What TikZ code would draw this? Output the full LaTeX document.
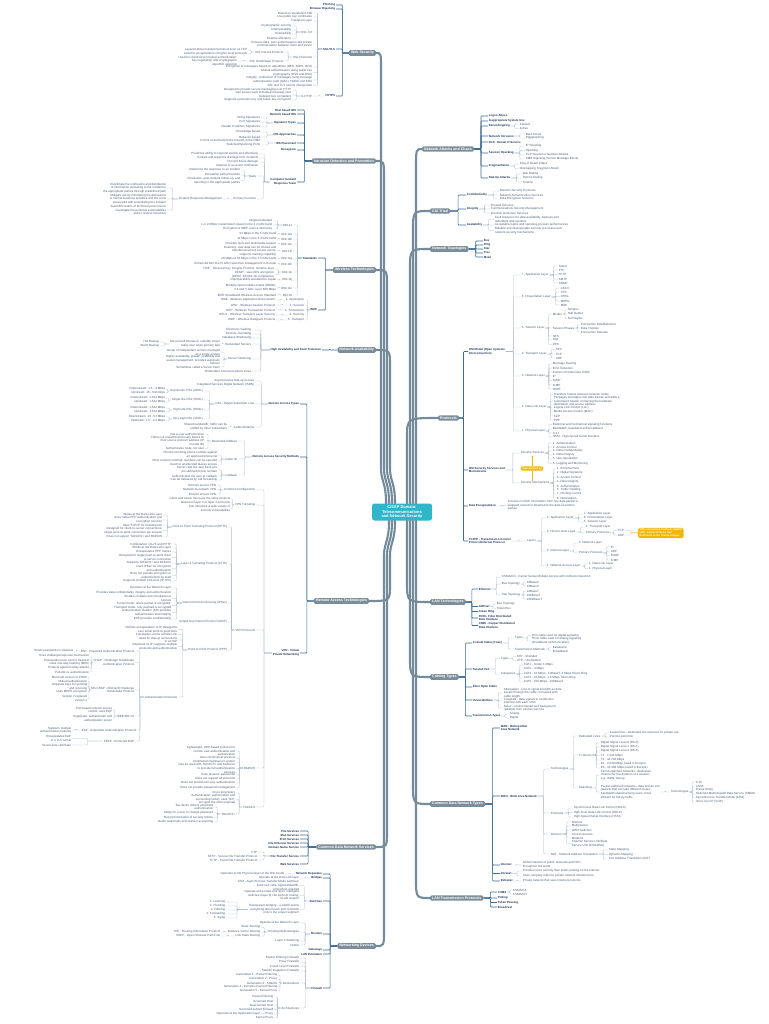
\documentclass[tikz,border=0pt]{standalone}
\usepackage{fontspec}
\setmainfont{Liberation Sans}
\usetikzlibrary{calc,arrows.meta}
\definecolor{leafc}{HTML}{4A5F78}
\definecolor{lvc}{HTML}{1D3557}
\definecolor{subc}{HTML}{A9BACB}
\definecolor{submc}{HTML}{3E6A93}
\definecolor{mainc}{HTML}{738B9A}
\definecolor{labc}{HTML}{7D8E9B}
\definecolor{rootc}{HTML}{2FB6C9}
\definecolor{yelc}{HTML}{F2B705}
\tikzset{
 lfL/.style={font=\fontsize{3}{3.6}\selectfont, text=leafc, align=right, inner sep=0.4pt, outer sep=0.5pt},
 lfR/.style={lfL, align=left},
 l1L/.style={font=\fontsize{2.9}{3.6}\selectfont\bfseries, text=lvc, align=right, inner sep=0.4pt, outer sep=0.5pt},
 l1R/.style={l1L, align=left},
 mainlab/.style={fill=labc, rounded corners=1.2pt, text=white, font=\fontsize{3.6}{4.2}\selectfont\bfseries, inner xsep=2pt, inner ysep=1.2pt},
 rootn/.style={fill=rootc, rounded corners=2.5pt, text=white, font=\fontsize{4}{4.6}\selectfont\bfseries, align=center, minimum width=60pt, minimum height=17pt, inner sep=1pt},
 mainline/.style={draw=mainc, line width=2.1pt, line cap=round},
 subl/.style={draw=subc, line width=0.3pt, rounded corners=0.8pt},
 subm/.style={draw=submc, line width=0.6pt, rounded corners=0.8pt},
 yline/.style={draw=yelc, line width=0.6pt},
 yel/.style={fill=yelc, rounded corners=1.5pt, text=white, font=\fontsize{2.6}{3.1}\selectfont\bfseries, inner xsep=1.5pt, inner ysep=0.8pt, align=left},
}
\newcommand\mmL[5][lfL]{\node[#1,anchor=east] (#2) at (#3,#4) {#5};}
\newcommand\mmR[5][lfR]{\node[#1,anchor=west] (#2) at (#3,#4) {#5};}
\newcommand\ccL[2]{\draw[subl] (#1.west) -- ($(#1.west)!.5!(#1.west -| #2.east)$) |- (#2.east);}
\newcommand\ccR[2]{\draw[subl] (#1.east) -- ($(#1.east)!.5!(#1.east -| #2.west)$) |- (#2.west);}
\newcommand\ccLa[2]{\draw[subm] (#1.west) -- ($(#1.west)!.5!(#1.west -| #2.east)$) |- (#2.east);}
\newcommand\ccRa[2]{\draw[subm] (#1.east) -- ($(#1.east)!.5!(#1.east -| #2.west)$) |- (#2.west);}
\newcommand\kidsL[2]{\foreach \chd in {#2}{\ccL{#1}{\chd}}}
\newcommand\kidsR[2]{\foreach \chd in {#2}{\ccR{#1}{\chd}}}
\newcommand\kidsLa[2]{\foreach \chd in {#2}{\ccLa{#1}{\chd}}}
\newcommand\kidsRa[2]{\foreach \chd in {#2}{\ccRa{#1}{\chd}}}
\begin{document}
\begin{tikzpicture}[x=1pt,y=-1pt]
\fill[white] (0,0) rectangle (768,1024);
\useasboundingbox (0,0) rectangle (768,1024);
\node[rootn] (root) at (402,512) {CISSP Domain:\\Telecommunications\\and Network Security};

% ================= WEB SECURITY
\node[mainlab,anchor=east] (ws) at (376,53) {Web Security};
\mmL[l1L]{ws1}{336}{5}{Phishing}
\mmL[l1L]{ws2}{336}{9}{Browser Hijacking}
\mmL[l1L]{ws3}{336}{49}{SSL/TLS}
\mmL[l1L]{ws4}{336}{96}{HTTPS}
\kidsLa{ws}{ws1,ws2,ws3,ws4}
\mmL{ws3a}{313}{13}{Based on standard X.509}
\mmL{ws3b}{313}{17}{Use public key certificates}
\mmL{ws3c}{313}{21}{Transport Layer}
\mmL{ws3d}{313}{32}{SSL 3.0}
\mmL{ws3e}{313}{44}{Ensures data, peer authentication and private\\communication between client and server}
\mmL{ws3f}{313}{57}{SSL Protocols}
\mmL{ws3g}{313}{67}{Encryption of messages based on algorithms (DES, 3DES, RC4)}
\mmL{ws3h}{313}{72.5}{Mutual authentication using public key\\cryptography (DSS and RSA)}
\mmL{ws3i}{313}{80}{Integrity: verification of messages using message\\authentication code (MAC), HMAC and SHA}
\mmL{ws3j}{313}{85.5}{SSL and TLS cannot interoperate}
\kidsL{ws3}{ws3a,ws3b,ws3c,ws3d,ws3e,ws3f,ws3g,ws3h,ws3i,ws3j}
\mmL{ws3d1}{292}{26}{Cryptographic security}
\mmL{ws3d2}{292}{30}{Interoperability}
\mmL{ws3d3}{292}{34}{Extensibility}
\mmL{ws3d4}{292}{38.5}{Relative efficiency}
\kidsL{ws3d}{ws3d1,ws3d2,ws3d3,ws3d4}
\mmL{ws3f1}{284}{52}{SSL Record Protocol}
\mmL{ws3f2}{284}{61}{SSL Handshake Protocol}
\kidsL{ws3f}{ws3f1,ws3f2}
\mmL{ws3f1a}{248}{50}{Layered above transport protocol such as TCP}
\mmL{ws3f1b}{248}{54}{Used for encapsulation of higher level protocols}
\kidsL{ws3f1}{ws3f1a,ws3f1b}
\mmL{ws3f2a}{238}{61}{Used for client/server mutual authentication,\\key negotiation and cryptographic\\algorithm selection}
\ccL{ws3f2}{ws3f2a}
\mmL{ws4a}{313}{96}{S-HTTP}
\ccL{ws4}{ws4a}
\mmL{ws4a1}{292}{90}{Designed to provide secure messaging over HTTP}
\mmL{ws4a2}{292}{95}{Can secure each individual message sent\\between two computers}
\mmL{ws4a3}{292}{100}{Supports symmetric key and public key encryption}
\kidsL{ws4a}{ws4a1,ws4a2,ws4a3}

% ================= INTRUSION DETECTION
\node[mainlab,anchor=east] (idp) at (376,161) {Intrusion Detection and Prevention};
\mmL[l1L]{id1}{297}{110}{Host based IDS}
\mmL[l1L]{id2}{297}{114}{Network based IDS}
\mmL[l1L]{id3}{297}{123}{Signature Types}
\mmL[l1L]{id4}{297}{135}{IDS Approaches}
\mmL[l1L]{id5}{297}{143}{IDS Placement}
\mmL[l1L]{id6}{297}{150}{Honeypots}
\mmL[l1L]{id7}{297}{182}{Computer Incident\\Response Team}
\kidsLa{idp}{id1,id2,id3,id4,id5,id6,id7}
\mmL{id3a}{261}{118}{String Signatures}
\mmL{id3b}{261}{122}{Port Signatures}
\mmL{id3c}{261}{127}{Header Condition Signatures}
\kidsL{id3}{id3a,id3b,id3c}
\mmL{id4a}{261}{132}{Knowledge based}
\mmL{id4b}{261}{137}{Behavior based}
\kidsL{id4}{id4a,id4b}
\mmL{id5a}{261}{141}{In front of and behind the firewall, in the DMZ}
\mmL{id5b}{261}{145}{Switched/Spanning Ports}
\kidsL{id5}{id5a,id5b}
\mmL{id7a}{259}{154}{Predictive ability to respond quickly and effectively}
\mmL{id7b}{259}{158}{Contain and repair the damage from incidents}
\mmL{id7c}{259}{162}{Prevent future damage}
\mmL{id7d}{259}{166}{Analysis of an event notification}
\mmL{id7e}{257}{176}{Tasks}
\mmL{id7f}{257}{199}{Primary Function}
\kidsL{id7}{id7a,id7b,id7c,id7d,id7e,id7f}
\mmL{id7e1}{241}{170}{Determine the response to an incident}
\mmL{id7e2}{241}{175}{Escalation path procedure}
\mmL{id7e3}{241}{180.5}{Resolution, post-incident follow-up, and\\reporting to the appropriate parties}
\kidsL{id7e}{id7e1,id7e2,id7e3}
\mmL{id7f1}{223}{199}{Incident Response Management}
\ccL{id7f}{id7f1}
\mmL{id7f1a}{167}{188}{Coordinate the notification and distribution\\of information pertaining to the incident to\\the appropriate parties through predefined path}
\mmL{id7f1b}{167}{199}{Mitigate risk by minimizing the disruptions\\to normal business activities and the costs\\associated with remediating the incident}
\mmL{id7f1c}{167}{210}{Assemble teams of technical personnel to\\investigate the potential vulnerabilities\\and to resolve intrusions}
\kidsL{id7f1}{id7f1a,id7f1b,id7f1c}

% ================= WIRELESS
\node[mainlab,anchor=east] (wl) at (376,270) {Wireless Technologies};
\mmL[l1L]{wl1}{318}{258}{Standards}
\mmL[l1L]{wl2}{318}{310}{WAP}
\kidsLa{wl}{wl1,wl2}
\mmL{wa}{293}{225}{802.11}
\mmL{wb}{293}{234}{802.11a}
\mmL{wc}{293}{239}{802.11b}
\mmL{wd}{293}{244}{802.11e}
\mmL{we}{293}{251}{802.11f}
\mmL{wf}{293}{259}{802.11g}
\mmL{wg}{293}{264}{802.11h}
\mmL{wh}{293}{272}{802.11i}
\mmL{wi}{293}{280}{802.11j}
\mmL{wj}{293}{288}{802.11n}
\mmL{wk}{293}{295}{802.16}
\kidsL{wl1}{wa,wb,wc,wd,we,wf,wg,wh,wi,wj,wk}
\mmL{wa1}{273}{221}{Original standard}
\mmL{wa2}{273}{225}{1 or 2 Mbps; transmission speed in the 2.4 GHz band}
\mmL{wa3}{273}{229}{Encryption is WEP, uses a 40-bit key}
\kidsL{wa}{wa1,wa2,wa3}
\mmL{wb1}{277}{234}{54 Mbps in the 5 GHz band}
\mmL{wc1}{277}{239}{11 Mbps in the 2.4 GHz band}
\mmL{wd1}{277}{244}{Provides QoS and multimedia support}
\mmL{we1}{277}{251}{Roaming: user data can be shared and\\transferred across access points;\\supports roaming capability}
\mmL{wf1}{277}{259}{20 Mbps to 54 Mbps in the 2.4 GHz band}
\mmL{wg1}{277}{264}{Enhanced 802.11a (5 GHz) spectrum management in Europe}
\mmL{wi1}{277}{280}{Interoperability standard for Japan}
\mmL{wj1}{277}{288}{Multiple-input multiple-output (MIMO);\\2.4 and 5 GHz; up to 600 Mbps}
\mmL{wk1}{277}{295}{IEEE Broadband Wireless Access Standard}
\ccL{wb}{wb1}\ccL{wc}{wc1}\ccL{wd}{wd1}\ccL{we}{we1}\ccL{wf}{wf1}
\ccL{wg}{wg1}\ccL{wi}{wi1}\ccL{wj}{wj1}\ccL{wk}{wk1}
\mmL{wh1}{275}{269}{TKIP - Temporal Key Integrity Protocol, dynamic keys}
\mmL{wh2}{275}{274.5}{CCMP - uses AES encryption\\(WPA2, full 802.11i compliance)}
\kidsL{wh}{wh1,wh2}
\mmL{wp1}{305}{300}{1. Application}
\mmL{wp2}{305}{305}{2. Session}
\mmL{wp3}{305}{310}{3. Transaction}
\mmL{wp4}{305}{315}{4. Security}
\mmL{wp5}{305}{320}{5. Transport}
\kidsL{wl2}{wp1,wp2,wp3,wp4,wp5}
\mmL{wp1a}{276}{300}{WAE - Wireless Application Environment}
\mmL{wp2a}{276}{305}{WSP - Wireless Session Protocol}
\mmL{wp3a}{276}{310}{WTP - Wireless Transaction Protocol}
\mmL{wp4a}{276}{315}{WTLS - Wireless Transport Layer Security}
\mmL{wp5a}{276}{320}{WDP - Wireless Datagram Protocol}
\ccL{wp1}{wp1a}\ccL{wp2}{wp2a}\ccL{wp3}{wp3a}\ccL{wp4}{wp4a}\ccL{wp5}{wp5a}

% ================= NETWORK AVAILABILITY
\node[mainlab,anchor=east] (na) at (376,350) {Network Availability};
\mmL[l1L]{na1}{322}{350}{High Availability and Fault Tolerance}
\ccLa{na}{na1}
\mmL{na1a}{252}{330}{Electronic Vaulting}
\mmL{na1b}{252}{334}{Remote Journaling}
\mmL{na1c}{252}{338}{Database Shadowing}
\mmL{na1d}{252}{344}{Redundant Servers}
\mmL{na1e}{252}{359}{Server Clustering}
\mmL{na1f}{252}{371}{Redundant Communications Lines}
\kidsL{na1}{na1a,na1b,na1c,na1d,na1e,na1f}
\mmL{na1d1}{221}{344}{Server fault tolerance: standby server\\takes over when primary fails}
\ccL{na1d}{na1d1}
\mmL{na1d1a}{160}{342}{Hot Backup}
\mmL{na1d1b}{160}{346}{Warm Backup}
\kidsL{na1d1}{na1d1a,na1d1b}
\mmL{na1e1}{221}{352.5}{Group of independent servers managed\\as a single system}
\mmL{na1e2}{221}{360}{Higher availability, greater scalability and\\easier management; provides automatic\\failover}
\mmL{na1e3}{221}{367}{Sometimes called a Server Farm}
\kidsL{na1e}{na1e1,na1e2,na1e3}

% ================= REMOTE ACCESS TECHNOLOGIES
\node[mainlab,anchor=east] (ra) at (369,601) {Remote Access Technologies};
\mmL[l1L]{ra1}{300}{404}{Remote Access Types}
\mmL[l1L]{ra2}{300}{457}{Remote Access Security Methods}
\mmL[l1L]{ra3}{300}{653}{VPN - Virtual\\Private Networking}
\kidsLa{ra}{ra1,ra2,ra3}
\mmL{ra1a}{255}{381}{Asynchronous Dial-up Access}
\mmL{ra1b}{255}{385}{Integrated Services Digital Network (ISDN)}
\mmL{ra1c}{255}{404}{DSL - Digital Subscriber Line}
\mmL{ra1d}{255}{427}{Cable Modems}
\kidsL{ra1}{ra1a,ra1b,ra1c,ra1d}
\mmL{dsa}{204}{391}{Asymmetric DSL (ADSL)}
\mmL{dsb}{204}{400}{Single-line DSL (SDSL)}
\mmL{dsc}{204}{410}{High-rate DSL (HDSL)}
\mmL{dsd}{204}{419}{Very-high DSL (VDSL)}
\kidsL{ra1c}{dsa,dsb,dsc,dsd}
\mmL{dsa1}{166}{389}{Downstream: 1.5 - 9 Mbps}
\mmL{dsa2}{166}{393}{Upstream: 16 - 640 Kbps}
\kidsL{dsa}{dsa1,dsa2}
\mmL{dsb1}{166}{398}{Downstream: 1.544 Mbps}
\mmL{dsb2}{166}{402}{Upstream: 1.544 Mbps}
\kidsL{dsb}{dsb1,dsb2}
\mmL{dsc1}{166}{408}{Downstream: 1.544 Mbps}
\mmL{dsc2}{166}{412}{Upstream: 1.544 Mbps}
\kidsL{dsc}{dsc1,dsc2}
\mmL{dsd1}{166}{417}{Downstream: 13 - 52 Mbps}
\mmL{dsd2}{166}{421}{Upstream: 1.5 - 2.3 Mbps}
\kidsL{dsd}{dsd1,dsd2}
\mmL{ra1d1}{228}{427}{Shared bandwidth; traffic can be\\sniffed by other subscribers}
\ccL{ra1d}{ra1d1}
\mmL{rsa}{238}{441}{Restricted Address}
\mmL{rsb}{238}{459}{Caller ID}
\mmL{rsc}{238}{475}{Callback}
\kidsL{ra2}{rsa,rsb,rsc}
\mmL{rsa1}{205}{434}{Not a user authentication}
\mmL{rsa2}{205}{441}{Filters out unauthorized users based on\\their source protocol address (IP\\or node ID)}
\mmL{rsa3}{205}{448.5}{Authenticates node, not user}
\kidsL{rsa}{rsa1,rsa2,rsa3}
\mmL{rsb1}{218}{455}{Checks incoming phone number against\\an approved phone list}
\mmL{rsb2}{218}{460.5}{Most common method; numbers can be spoofed}
\mmL{rsb3}{218}{465}{Used for unattended dial-up access}
\kidsL{rsb}{rsb1,rsb2,rsb3}
\mmL{rsc1}{218}{470}{Server calls the user back at a\\pre-defined phone number}
\mmL{rsc2}{218}{476}{Authenticates the user at callback}
\mmL{rsc3}{218}{480}{Can be defeated by call forwarding}
\kidsL{rsc}{rsc1,rsc2,rsc3}
\mmL{vpa}{256}{490}{Common Configuration}
\mmL{vpb}{256}{505}{VPN Tunneling}
\mmL{vpc}{256}{630}{VPN Protocols}
\mmL{vpd}{256}{768}{RADIUS}
\mmL{vpe}{256}{807}{TACACS}
\kidsL{ra3}{vpa,vpb,vpc,vpd,vpe}
\mmL{vpa1}{217}{485}{Remote access VPN}
\mmL{vpa2}{217}{489.5}{Network-to-network VPN}
\mmL{vpa3}{217}{494}{Intranet access VPN}
\kidsL{vpa}{vpa1,vpa2,vpa3}
\mmL{vpb1}{231}{499}{Client and server must use the same protocol}
\mmL{vpb2}{231}{503}{Based on layer 2 or layer 3 protocols}
\mmL{vpb3}{231}{508.5}{Can introduce a wide variety of\\security vulnerabilities}
\kidsL{vpb}{vpb1,vpb2,vpb3}
\mmL{ppt}{228}{527}{Point-to-Point Tunneling Protocol (PPTP)}
\mmL{l2t}{228}{564}{Layer 2 Tunneling Protocol (L2TP)}
\mmL{ips}{228}{603}{Internet Protocol Security (IPSec)}
\mmL{skp}{228}{622}{Simple Key Internet Protocol (SKIP)}
\mmL{ppp}{228}{650}{Point-to-Point Protocol (PPP)}
\kidsL{vpc}{ppt,l2t,ips,skp,ppp}
\mmL{ppt1}{163}{515}{Works at the Data Link Layer}
\mmL{ppt2}{163}{520}{Uses native PPP authentication and\\encryption services}
\mmL{ppt3}{163}{525}{Uses TCP/IP for transmission}
\mmL{ppt4}{163}{530.5}{Designed for client-to-server connections;\\single point-to-point connection per session}
\mmL{ppt5}{163}{537}{Does not support TACACS+ and RADIUS}
\kidsL{ppt}{ppt1,ppt2,ppt3,ppt4,ppt5}
\mmL{l2t1}{172}{544}{Combination of L2F and PPTP}
\mmL{l2t2}{172}{548}{Works at the Data Link Layer}
\mmL{l2t3}{172}{552}{Encapsulates PPP frames}
\mmL{l2t4}{172}{557.5}{Designed for single point-to-point client\\to server connection}
\mmL{l2t5}{172}{563}{Supports TACACS+ and RADIUS}
\mmL{l2t6}{172}{568.5}{Uses IPSec for encryption\\and authentication}
\mmL{l2t7}{172}{575.5}{Does not provide encryption or\\authentication by itself}
\mmL{l2t8}{172}{581}{Supports multiple protocols (IP, IPX)}
\kidsL{l2t}{l2t1,l2t2,l2t3,l2t4,l2t5,l2t6,l2t7,l2t8}
\mmL{ips1}{172}{588}{Operates at the Network Layer}
\mmL{ips2}{172}{593}{Provides data confidentiality, integrity and authentication}
\mmL{ips3}{172}{598.5}{Enables multiple and simultaneous\\tunnels}
\mmL{ips4}{172}{605.5}{Tunnel mode: entire packet is encrypted;\\Transport mode: only payload is encrypted}
\mmL{ips5}{172}{612.5}{Authentication Header (AH) provides\\authentication and integrity}
\mmL{ips6}{172}{619}{ESP provides confidentiality}
\kidsL{ips}{ips1,ips2,ips3,ips4,ips5,ips6}
\mmL{ppp1}{178}{629.5}{Defines encapsulation of IP datagrams\\over serial point-to-point links}
\mmL{ppp2}{178}{634.5}{Full-duplex, works at Data Link}
\mmL{ppp3}{178}{640}{Used for dial-up connections\\to an ISP}
\mmL{ppp4}{178}{646.5}{Replaced SLIP; supports multiple\\protocols and authentication}
\mmL{aut}{178}{697}{Authentication Protocols}
\kidsL{ppp}{ppp1,ppp2,ppp3,ppp4,aut}
\mmL{pap}{135}{651}{PAP - Password Authentication Protocol}
\mmL{chp}{135}{662.5}{CHAP - Challenge Handshake\\Authentication Protocol}
\mmL{msc}{135}{690}{MS-CHAP - Microsoft Challenge\\Handshake Protocol}
\mmL{dot}{135}{716}{IEEE 802.1X}
\mmL{eap}{137}{730}{EAP - Extensible Authentication Protocol}
\mmL{pea}{135}{741}{PEAP - Protected EAP}
\kidsL{aut}{pap,chp,msc,dot,eap,pea}
\mmL{pap1}{74}{651}{Sends passwords in cleartext}
\ccL{pap}{pap1}
\mmL{chp1}{90}{656}{Uses challenge/response mechanism}
\mmL{chp2}{90}{660}{Passwords never sent in cleartext}
\mmL{chp3}{90}{664}{Uses one-way hashing (MD5)}
\mmL{chp4}{90}{668}{Protects against replay attacks}
\mmL{chp5}{90}{672}{Periodic re-authentication}
\kidsL{chp}{chp1,chp2,chp3,chp4,chp5}
\mmL{msc1}{88}{677}{Microsoft version of CHAP}
\mmL{msc2}{88}{681}{Mutual authentication}
\mmL{msc3}{88}{686.5}{Separate keys for sending\\and receiving}
\mmL{msc4}{88}{692}{Uses MPPE encryption}
\mmL{msc5}{88}{698.5}{Version 2 replaced\\version 1}
\kidsL{msc}{msc1,msc2,msc3,msc4,msc5}
\mmL{dot1}{113}{710}{Port-based network access\\control; uses EAP}
\mmL{dot2}{113}{718.5}{Supplicant, authenticator and\\authentication server}
\kidsL{dot}{dot1,dot2}
\mmL{eap1}{72}{730}{Supports multiple\\authentication methods}
\ccL{eap}{eap1}
\mmL{pea1}{72}{738.5}{Encapsulates EAP\\in a TLS tunnel}
\mmL{pea2}{72}{745}{Server-side certificate}
\kidsL{pea}{pea1,pea2}
\mmL{rad1}{236}{751}{Lightweight, UDP-based protocol for\\remote user authentication and\\authorization}
\mmL{rad2}{236}{758}{Uses client/server protocol}
\mmL{rad3}{236}{762}{Distributed client/server system}
\mmL{rad4}{236}{768.5}{Can be used with TACACS+ and Kerberos\\to provide full authentication\\services}
\mmL{rad5}{236}{775}{Uses dynamic passwords}
\mmL{rad6}{236}{779}{Does not support all protocols}
\mmL{rad7}{236}{783}{Does not provide two-way authentication}
\mmL{rad8}{236}{787.5}{Does not provide password management}
\kidsL{vpd}{rad1,rad2,rad3,rad4,rad5,rad6,rad7,rad8}
\mmL{tac1}{236}{793}{Cisco proprietary}
\mmL{tac2}{236}{799.5}{Authentication, authorization and\\accounting (AAA); uses TCP;\\encrypts the entire payload}
\mmL{tac3}{236}{814}{TACACS+}
\kidsL{vpe}{tac1,tac2,tac3}
\mmL{tac3a}{214}{807}{Two-factor (token) password\\authentication}
\mmL{tac3b}{214}{813}{Ability for a user to change password}
\mmL{tac3c}{214}{817.5}{Resynchronization of security tokens}
\mmL{tac3d}{214}{822}{Better audit trails and session accounting}
\kidsL{tac3}{tac3a,tac3b,tac3c,tac3d}

% ================= COMMON DATA NETWORK SERVICES
\node[mainlab,anchor=east] (cd) at (376,847) {Common Data Network Services};
\mmL[l1L]{cd1}{300}{831}{File Services}
\mmL[l1L]{cd2}{300}{835}{Mail Services}
\mmL[l1L]{cd3}{300}{839}{Print Services}
\mmL[l1L]{cd4}{300}{843}{Client/Server Services}
\mmL[l1L]{cd5}{300}{847}{Domain Name Service}
\mmL[l1L]{cd6}{300}{856}{File Transfer Service}
\mmL[l1L]{cd7}{300}{864}{Web Services}
\kidsLa{cd}{cd1,cd2,cd3,cd4,cd5,cd6,cd7}
\mmL{cd6a}{258}{852}{FTP}
\mmL{cd6b}{258}{856}{SFTP - Secure File Transfer Protocol}
\mmL{cd6c}{258}{860}{TFTP - Trivial File Transfer Protocol}
\kidsL{cd6}{cd6a,cd6b,cd6c}

% ================= NETWORKING DEVICES
\node[mainlab,anchor=east] (nd) at (376,946) {Networking Devices};
\mmL[l1L]{nd1}{323}{874}{Network Repeaters}
\mmL[l1L]{nd2}{323}{878}{Bridges}
\mmL[l1L]{nd3}{323}{901}{Switches}
\mmL[l1L]{nd4}{323}{934}{Routers}
\mmL[l1L]{nd5}{323}{950}{Gateways}
\mmL[l1L]{nd6}{323}{954}{LAN Extenders}
\mmL[l1L]{nd7}{323}{988}{Firewall}
\kidsLa{nd}{nd1,nd2,nd3,nd4,nd5,nd6,nd7}
\mmL{nd1a}{285}{874}{Operates at the Physical layer of the OSI model}
\ccL{nd1}{nd1a}
\mmL{nd2a}{300}{878}{Operate at the Data Link layer}
\ccL{nd2}{nd2a}
\mmL{nd3a}{300}{885.5}{ATM - Asynchronous Transfer Mode switches;\\fixed-size cells, high bandwidth,\\connection-oriented}
\mmL{nd3b}{300}{895.5}{Operate at the Data Link layer; intelligent\\switches (layer 3) can perform routing;\\VLAN support}
\mmL{nd3c}{300}{909.5}{Transparent bridging - a switch learns\\everything about each port; forwards\\only to the proper segment}
\kidsL{nd3}{nd3a,nd3b,nd3c}
\mmL{nd3c1}{226}{902}{1. Learning}
\mmL{nd3c2}{226}{906}{2. Flooding}
\mmL{nd3c3}{226}{910}{3. Filtering}
\mmL{nd3c4}{226}{914}{4. Forwarding}
\mmL{nd3c5}{226}{918}{5. Aging}
\kidsL{nd3c}{nd3c1,nd3c2,nd3c3,nd3c4,nd3c5}
\mmL{nd4a}{300}{923}{Operate at the Network Layer}
\mmL{nd4b}{300}{932}{Routing Methodologies}
\mmL{nd4c}{300}{941}{Layer 3 Switching}
\mmL{nd4d}{300}{945}{VLANs}
\kidsL{nd4}{nd4a,nd4b,nd4c,nd4d}
\mmL{rm1}{261}{927}{Static Routing}
\mmL{rm2}{261}{932}{Distance Vector Routing}
\mmL{rm3}{261}{936}{Link State Routing}
\kidsL{nd4b}{rm1,rm2,rm3}
\mmL{rm2a}{221}{932}{RIP - Routing Information Protocol}
\ccL{rm2}{rm2a}
\mmL{rm3a}{221}{936}{OSPF - Open Shortest Path First}
\ccL{rm3}{rm3a}
\mmL{fw1}{300}{958}{Packet Filtering Firewalls}
\mmL{fw2}{300}{962}{Proxy Firewalls}
\mmL{fw3}{300}{966.5}{Circuit Level Firewalls}
\mmL{fw4}{300}{971}{Stateful Inspection Firewalls}
\mmL{fw5}{300}{983}{Generations}
\mmL{fw6}{300}{1008}{Architectures}
\kidsL{nd7}{fw1,fw2,fw3,fw4,fw5,fw6}
\mmL{gn1}{278}{975}{Generation 1 - Packet Filtering}
\mmL{gn2}{278}{979}{Generation 2 - Proxy}
\mmL{gn3}{278}{983}{Generation 3 - Stateful}
\mmL{gn4}{278}{987}{Generation 4 - Dynamic Packet Filtering}
\mmL{gn5}{278}{991}{Generation 5 - Kernel Proxy}
\kidsL{fw5}{gn1,gn2,gn3,gn4,gn5}
\mmL{ar1}{274}{997}{Packet Filtering}
\mmL{ar2}{274}{1001}{Screened Host}
\mmL{ar3}{274}{1005}{Dual-homed Host}
\mmL{ar4}{274}{1009.5}{Screened-subnet Firewall}
\mmL{ar5}{274}{1014}{Proxy}
\mmL{ar6}{274}{1018}{Kernel Proxy}
\kidsL{fw6}{ar1,ar2,ar3,ar4,ar5,ar6}
\mmL{ar5a}{261}{1014}{Operates at the Application layer}
\ccL{ar5}{ar5a}

% ================= NETWORK ATTACKS
\node[mainlab,anchor=west] (at) at (422,149) {Network Attacks and Chaos};
\mmR[l1R]{at1}{488}{116}{Logon Abuse}
\mmR[l1R]{at2}{488}{121}{Inappropriate System Use}
\mmR[l1R]{at3}{488}{126}{Eavesdropping}
\mmR[l1R]{at4}{488}{136}{Network Intrusion}
\mmR[l1R]{at5}{488}{142}{DoS - Denial of Service}
\mmR[l1R]{at6}{488}{153}{Session Hijacking}
\mmR[l1R]{at7}{488}{166}{Fragmentation}
\mmR[l1R]{at8}{488}{178}{Dial-Up Attacks}
\kidsRa{at}{at1,at2,at3,at4,at5,at6,at7,at8}
\mmR{at3a}{519}{124}{Passive}
\mmR{at3b}{519}{128.5}{Active}
\kidsR{at3}{at3a,at3b}
\mmR{at4a}{525}{134}{Back Doors}
\mmR{at4b}{525}{138}{Piggybacking}
\kidsR{at4}{at4a,at4b}
\mmR{at6a}{525}{146}{IP Spoofing}
\mmR{at6b}{525}{150.5}{Hijacking}
\mmR{at6c}{525}{155}{TCP Sequence Number Attacks}
\mmR{at6d}{525}{159}{SMB Hijacking (Server Message Block)}
\kidsR{at6}{at6a,at6b,at6c,at6d}
\mmR{at7a}{519}{164}{Ping of Death Attack}
\mmR{at7b}{519}{168.5}{Overlapping Fragment Attack}
\kidsR{at7}{at7a,at7b}
\mmR{at8a}{522}{174}{War Dialing}
\mmR{at8b}{522}{178}{Demon Dialing}
\mmR{at8c}{522}{182}{Toneloc}
\kidsR{at8}{at8a,at8b,at8c}

% ================= CIA
\node[mainlab,anchor=west] (cia) at (430,211) {CIA Triad};
\mmR[l1R]{ci1}{466}{195}{Confidentiality}
\mmR[l1R]{ci2}{466}{209}{Integrity}
\mmR[l1R]{ci3}{466}{225}{Availability}
\kidsRa{cia}{ci1,ci2,ci3}
\mmR{ci1a}{499}{191}{Network Security Protocols}
\mmR{ci1b}{499}{195}{Network Authentication Services}
\mmR{ci1c}{499}{199}{Data Encryption Services}
\kidsR{ci1}{ci1a,ci1b,ci1c}
\mmR{ci2a}{490}{205}{Firewall Services}
\mmR{ci2b}{490}{209}{Communications Security Management}
\mmR{ci2c}{490}{213}{Intrusion Detection Services}
\kidsR{ci2}{ci2a,ci2b,ci2c}
\mmR{ci3a}{494}{219.5}{Fault tolerance for data availability, backups and\\redundant disk systems}
\mmR{ci3b}{494}{225}{Acceptable logins and operating process performances}
\mmR{ci3c}{494}{230.5}{Reliable and interoperable security processes and\\network security mechanisms}
\kidsR{ci3}{ci3a,ci3b,ci3c}

% ================= TOPOLOGIES
\node[mainlab,anchor=west] (tp) at (430,249) {Network Topologies};
\mmR[l1R]{tp1}{483}{241}{Bus}
\mmR[l1R]{tp2}{483}{245}{Ring}
\mmR[l1R]{tp3}{483}{249}{Star}
\mmR[l1R]{tp4}{483}{253}{Tree}
\mmR[l1R]{tp5}{483}{257}{Mesh}
\kidsRa{tp}{tp1,tp2,tp3,tp4,tp5}

% ================= PROTOCOLS
\node[mainlab,anchor=west] (pr) at (438,418) {Protocols};
\mmR[l1R]{pr1}{468}{351.5}{OSI Model (Open Systems\\Interconnection)}
\mmR[l1R]{pr2}{468}{470}{OSI Security Services and\\Mechanisms}
\mmR[l1R]{pr3}{468}{506}{Data Encapsulation}
\mmR[l1R]{pr4}{468}{541}{TCP/IP - Transmission Control\\Protocol/Internet Protocol}
\kidsRa{pr}{pr1,pr2,pr3,pr4}
\mmR{os7}{521}{275}{7. Application Layer}
\mmR{os6}{521}{297}{6. Presentation Layer}
\mmR{os5}{521}{328}{5. Session Layer}
\mmR{os4}{521}{354}{4. Transport Layer}
\mmR{os3}{521}{376}{3. Network Layer}
\mmR{os2}{521}{407}{2. Data Link Layer}
\mmR{os1}{521}{431}{1. Physical Layer}
\kidsR{pr1}{os7,os6,os5,os4,os3,os2,os1}
\mmR{os7a}{558}{266}{Telnet}
\mmR{os7b}{558}{270}{FTP}
\mmR{os7c}{558}{274.5}{TFTP}
\mmR{os7d}{558}{279}{SMTP}
\mmR{os7e}{558}{283}{SNMP}
\kidsR{os7}{os7a,os7b,os7c,os7d,os7e}
\mmR{os6a}{560}{288}{ASCII}
\mmR{os6b}{560}{292}{TIFF}
\mmR{os6c}{560}{296.5}{JPEG}
\mmR{os6d}{560}{301}{MPEG}
\mmR{os6e}{560}{305}{MIDI}
\kidsR{os6}{os6a,os6b,os6c,os6d,os6e}
\mmR{os5a}{552}{314}{Modes}
\mmR{os5b}{552}{328}{Session Phases}
\mmR{os5c}{552}{336}{NFS}
\mmR{os5d}{552}{340}{SQL}
\mmR{os5e}{552}{344.5}{RPC}
\kidsR{os5}{os5a,os5b,os5c,os5d,os5e}
\mmR{md1}{567}{310}{Simplex}
\mmR{md2}{567}{314}{Half Duplex}
\mmR{md3}{567}{318.5}{Full Duplex}
\kidsR{os5a}{md1,md2,md3}
\mmR{ph1}{580}{324}{Connection Establishment}
\mmR{ph2}{580}{328}{Data Transfer}
\mmR{ph3}{580}{332}{Connection Release}
\kidsR{os5b}{ph1,ph2,ph3}
\mmR{os4a}{555}{349.5}{SPX}
\mmR{os4b}{555}{354}{TCP}
\mmR{os4c}{555}{358}{UDP}
\kidsR{os4}{os4a,os4b,os4c}
\mmR{os3a}{552}{364}{Message Routing}
\mmR{os3b}{552}{368}{Error Detection}
\mmR{os3c}{552}{372}{Control of Node Data Traffic}
\mmR{os3d}{552}{376}{IP}
\mmR{os3e}{552}{380.5}{IGMP}
\mmR{os3f}{552}{385}{ICMP}
\mmR{os3g}{552}{389}{OSPF}
\kidsR{os3}{os3a,os3b,os3c,os3d,os3e,os3f,os3g}
\mmR{os2a}{553}{394}{Transfers frames between network nodes}
\mmR{os2b}{553}{401}{Packages messages into data frames and adds a\\customized header containing the hardware\\destination and source address}
\mmR{os2c}{553}{408}{Logical Link Control (LLC)}
\mmR{os2d}{553}{412}{Media Access Control (MAC)}
\mmR{os2e}{553}{416}{SLIP}
\mmR{os2f}{553}{420}{PPP}
\kidsR{os2}{os2a,os2b,os2c,os2d,os2e,os2f}
\mmR{os1a}{552}{424.5}{Electrical and mechanical signaling functions}
\mmR{os1b}{552}{429}{Bandwidth, baseband and broadband}
\mmR{os1c}{552}{433}{X.21}
\mmR{os1d}{552}{437}{HSSI - High-Speed Serial Interface}
\kidsR{os1}{os1a,os1b,os1c,os1d}
\mmR{ssv}{520}{453}{Security Services}
\mmR{smc}{520}{483}{Security Mechanisms}
\kidsR{pr2}{ssv,smc}
\mmR{ssv1}{552}{443}{1. Authentication}
\mmR{ssv2}{552}{447}{2. Access Control}
\mmR{ssv3}{552}{451}{3. Data Confidentiality}
\mmR{ssv4}{552}{455}{4. Data Integrity}
\mmR{ssv5}{552}{459}{5. Non-repudiation}
\mmR{ssv6}{552}{463.5}{6. Logging and Monitoring}
\kidsR{ssv}{ssv1,ssv2,ssv3,ssv4,ssv5,ssv6}
\mmR{smc1}{556}{469}{1. Encipherment}
\mmR{smc2}{556}{473}{2. Digital Signature}
\mmR{smc3}{556}{477}{3. Access Control}
\mmR{smc4}{556}{481.5}{4. Data Integrity}
\mmR{smc5}{556}{486}{5. Authentication}
\mmR{smc6}{556}{490}{6. Traffic Padding}
\mmR{smc7}{556}{494}{7. Routing Control}
\mmR{smc8}{556}{498}{8. Notarization}
\kidsR{smc}{smc1,smc2,smc3,smc4,smc5,smc6,smc7,smc8}
\node[yel] (yc1) at (532,468.5) {implemented by};
\draw[yline,-{Stealth[length=1.6pt,width=1.6pt]}] (yc1.north) -- (yc1.north |- ssv.south);
\draw[yline] (yc1.south) -- (yc1.south |- smc.north);
\mmR{pr3a}{507}{505.5}{Process in which information from one data packet is\\wrapped around or attached to the data of another\\packet}
\ccR{pr3}{pr3a}
\mmR{lay}{526}{541}{Layers}
\ccR{pr4}{lay}
\mmR{tl4}{546}{518}{4. Application Layer}
\mmR{tl3}{546}{532}{3. Host-to-Host Layer}
\mmR{tl2}{546}{551}{2. Internet Layer}
\mmR{tl1}{546}{566}{1. Network Access Layer}
\kidsR{lay}{tl4,tl3,tl2,tl1}
\mmR{tl4a}{583}{514}{7. Application Layer}
\mmR{tl4b}{583}{518}{6. Presentation Layer}
\mmR{tl4c}{583}{522}{5. Session Layer}
\kidsR{tl4}{tl4a,tl4b,tl4c}
\mmR{tl3a}{585}{527}{4. Transport Layer}
\mmR{tl3b}{585}{533}{Primary Protocols}
\kidsR{tl3}{tl3a,tl3b}
\mmR{tcp}{617}{530.5}{TCP}
\mmR{udp}{617}{535}{UDP}
\kidsR{tl3b}{tcp,udp}
\coordinate (brc) at (631,532.7);
\draw[subl] (tcp.east) -| (brc) |- (udp.east);
\node[yel,anchor=west] (yc2) at (638,533) {TCP: connection-oriented, reliable\\UDP: connectionless, fast\\Both work at the Transport layer};
\draw[yline,-{Stealth[length=1.6pt,width=1.6pt]}] (brc) -- (yc2.west);
\mmR{tl2a}{578}{543}{3. Network Layer}
\mmR{tl2b}{578}{553}{Primary Protocols}
\kidsR{tl2}{tl2a,tl2b}
\mmR{tl2b1}{610}{547}{IP}
\mmR{tl2b2}{610}{551}{ARP}
\mmR{tl2b3}{610}{555.5}{RARP}
\mmR{tl2b4}{610}{560}{ICMP}
\kidsR{tl2b}{tl2b1,tl2b2,tl2b3,tl2b4}
\mmR{tl1a}{588}{564}{2. Data Link Layer}
\mmR{tl1b}{588}{568.5}{1. Physical Layer}
\kidsR{tl1}{tl1a,tl1b}

% ================= LAN TECHNOLOGIES
\node[mainlab,anchor=west] (lt) at (430,602) {LAN Technologies};
\mmR[l1R]{lt1}{478}{589}{Ethernet}
\mmR[l1R]{lt2}{478}{606.5}{ARCnet}
\mmR[l1R]{lt3}{478}{611.5}{Token Ring}
\mmR[l1R]{lt4}{478}{618}{FDDI - Fiber Distributed\\Data Interface}
\mmR[l1R]{lt5}{478}{625.5}{CDDI - Copper Distributed\\Data Interface}
\kidsRa{lt}{lt1,lt2,lt3,lt4,lt5}
\mmR{et1}{501}{577}{CSMA/CD - Carrier Sense Multiple Access with Collision Detection}
\mmR{et2}{501}{584}{Bus Topology}
\mmR{et3}{501}{595}{Star Topology}
\kidsR{lt1}{et1,et2,et3}
\mmR{et2a}{526}{582}{10Base2}
\mmR{et2b}{526}{586}{10Base5}
\kidsR{et2}{et2a,et2b}
\mmR{et3a}{526}{591}{10BaseT}
\mmR{et3b}{526}{595}{100BaseT}
\mmR{et3c}{526}{599}{1000BaseT}
\kidsR{et3}{et3a,et3b,et3c}
\mmR{an1}{496}{604}{Bus Topology}
\mmR{an2}{496}{608.5}{Token Bus}
\kidsR{lt2}{an1,an2}

% ================= CABLING
\node[mainlab,anchor=west] (cb) at (430,677) {Cabling Types};
\mmR[l1R]{cb1}{472}{643}{Coaxial Cable (Coax)}
\mmR[l1R]{cb2}{472}{669}{Twisted Pair}
\mmR[l1R]{cb3}{472}{687}{Fiber Optic Cable}
\mmR[l1R]{cb4}{472}{700}{Vulnerabilities}
\mmR[l1R]{cb5}{472}{716}{Transmission Types}
\kidsRa{cb}{cb1,cb2,cb3,cb4,cb5}
\mmR{cx1}{514}{638}{Types}
\mmR{cx2}{514}{649}{Transmission Methods}
\kidsR{cb1}{cx1,cx2}
\mmR{cx1a}{531}{635.5}{Thin cable used for digital signaling}
\mmR{cx1b}{531}{641}{Thick cable used for analog signaling\\(broadband communication)}
\kidsR{cx1}{cx1a,cx1b}
\mmR{cx2a}{552}{647}{Baseband}
\mmR{cx2b}{552}{651}{Broadband}
\kidsR{cx2}{cx2a,cx2b}
\mmR{tw1}{500}{658.5}{Types}
\mmR{tw2}{500}{674}{Categories}
\kidsR{cb2}{tw1,tw2}
\mmR{tw1a}{516}{656.5}{STP - Shielded}
\mmR{tw1b}{516}{660.5}{UTP - Unshielded}
\kidsR{tw1}{tw1a,tw1b}
\mmR{ct1}{523}{665}{CAT1 - Under 1 Mbps}
\mmR{ct2}{523}{669}{CAT2 - 4 Mbps}
\mmR{ct3}{523}{673.5}{CAT3 - 10 Mbps - 10BaseT; 4 Mbps Token Ring}
\mmR{ct4}{523}{678}{CAT4 - 16 Mbps - 16 Mbps Token Ring}
\mmR{ct5}{523}{682}{CAT5 - 100 Mbps - 100BaseT}
\kidsR{tw2}{ct1,ct2,ct3,ct4,ct5}
\mmR{vu1}{503}{693}{Attenuation - loss of signal strength as data\\travels through the cable; increases with\\cable length}
\mmR{vu2}{503}{701}{Crosstalk - data signals in conductors\\interfere with each other}
\mmR{vu3}{503}{708}{Noise - environmental and background\\radiation from various sources}
\kidsR{cb4}{vu1,vu2,vu3}
\mmR{tt1}{509}{714}{Analog}
\mmR{tt2}{509}{718}{Digital}
\kidsR{cb5}{tt1,tt2}

% ================= COMMON DATA NETWORK TYPES
\node[mainlab,anchor=west] (cn) at (430,804) {Common Data Network Types};
\mmR[l1R]{cn1}{500}{728}{MAN - Metropolitan\\Area Network}
\mmR[l1R]{cn2}{500}{796}{WAN - Wide Area Network}
\mmR[l1R]{cn3}{500}{865}{Internet}
\mmR[l1R]{cn4}{500}{873.5}{Intranet}
\mmR[l1R]{cn5}{500}{881}{Extranet}
\kidsRa{cn}{cn1,cn2,cn3,cn4,cn5}
\mmR{wn1}{550}{769}{Technologies}
\mmR{wn2}{550}{813}{Protocols}
\mmR{wn3}{550}{834}{Devices}
\mmR{wn4}{550}{854}{NAT - Network Address Translation}
\kidsR{cn2}{wn1,wn2,wn3,wn4}
\mmR{te1}{578}{736}{Dedicated Lines}
\mmR{te2}{578}{755}{T-carriers}
\mmR{te3}{578}{788}{Switching}
\kidsR{wn1}{te1,te2,te3}
\mmR{te1a}{609}{733}{Leased line - dedicated line reserved for private use}
\mmR{te1b}{609}{737}{Point-to-point link}
\kidsR{te1}{te1a,te1b}
\mmR{tc1}{600}{743}{Digital Signal Level 0 (DS-0)}
\mmR{tc2}{600}{747}{Digital Signal Level 1 (DS-1)}
\mmR{tc3}{600}{751}{Digital Signal Level 3 (DS-3)}
\mmR{tc4}{600}{755.5}{T1 - 1.544 Mbps}
\mmR{tc5}{600}{760}{T3 - 44.736 Mbps}
\mmR{tc6}{600}{764}{E1 - 2.048 Mbps (used in Europe)}
\mmR{tc7}{600}{768}{E3 - 34.368 Mbps (used in Europe)}
\kidsR{te2}{tc1,tc2,tc3,tc4,tc5,tc6,tc7}
\mmR{sw1}{600}{775}{Circuit-switched networks - dedicated\\channel for the duration of a session;\\e.g. ISDN, dial-up}
\mmR{sw2}{600}{792}{Packet-switched networks - data broken into\\packets that can take different routes;\\bandwidth shared among users; more\\efficient for bursty traffic}
\kidsR{te3}{sw1,sw2}
\mmR{sw2t}{670}{792}{Technologies}
\ccR{sw2}{sw2t}
\mmR{pk1}{695}{782}{X.25}
\mmR{pk2}{695}{786}{LAPB}
\mmR{pk3}{695}{790}{Frame Relay}
\mmR{pk4}{695}{794}{Switched Multimegabit Data Service (SMDS)}
\mmR{pk5}{695}{798}{Asynchronous Transfer Mode (ATM)}
\mmR{pk6}{695}{802}{Voice over IP (VoIP)}
\kidsR{sw2t}{pk1,pk2,pk3,pk4,pk5,pk6}
\mmR{wp1x}{573}{808}{Synchronous Data Link Control (SDLC)}
\mmR{wp2x}{573}{812.5}{High-level Data Link Control (HDLC)}
\mmR{wp3x}{573}{817}{High-Speed Serial Interface (HSSI)}
\kidsR{wn2}{wp1x,wp2x,wp3x}
\mmR{dv1}{571}{822}{Routers}
\mmR{dv2}{571}{826}{Multiplexors}
\mmR{dv3}{571}{830}{WAN Switches}
\mmR{dv4}{571}{834}{Access Servers}
\mmR{dv5}{571}{838}{Modems}
\mmR{dv6}{571}{843.5}{Channel Service Unit/Data\\Service Unit (CSU/DSU)}
\kidsR{wn3}{dv1,dv2,dv3,dv4,dv5,dv6}
\mmR{nt1}{608}{850}{Static Mapping}
\mmR{nt2}{608}{854.5}{Dynamic Mapping}
\mmR{nt3}{608}{859}{Port Address Translation (PAT)}
\kidsR{wn4}{nt1,nt2,nt3}
\mmR{cn3a}{522}{865}{Global network of public networks and ISPs\\throughout the world}
\ccR{cn3}{cn3a}
\mmR{cn4a}{522}{871}{Provides more security than public posting on the Internet}
\mmR{cn4b}{522}{876}{Uses company internal, private network infrastructure}
\kidsR{cn4}{cn4a,cn4b}
\mmR{cn5a}{522}{881}{Private network that uses Internet protocols}
\ccR{cn5}{cn5a}

% ================= LAN TRANSMISSION PROTOCOLS
\node[mainlab,anchor=west] (lp) at (430,898) {LAN Transmission Protocols};
\mmR[l1R]{lp1}{497}{892}{CSMA}
\mmR[l1R]{lp2}{497}{898}{Polling}
\mmR[l1R]{lp3}{497}{902.5}{Token Passing}
\mmR[l1R]{lp4}{497}{907}{Broadcast}
\kidsRa{lp}{lp1,lp2,lp3,lp4}
\mmR{lp1a}{512}{890}{CSMA/CA}
\mmR{lp1b}{512}{894}{CSMA/CD}
\kidsR{lp1}{lp1a,lp1b}

% ================= MAIN CONNECTORS
\draw[mainline] ([xshift=-16pt]root.north) .. controls +(0,-22) and (381,482) .. (381,468) -- (381,69) .. controls (381,53) .. (ws.east);
\draw[mainline] ([xshift=-13pt]root.north) .. controls +(0,-22) and (384,482) .. (384,468) -- (384,177) .. controls (384,161) .. (idp.east);
\draw[mainline] ([xshift=-10pt]root.north) .. controls +(0,-22) and (387,482) .. (387,468) -- (387,286) .. controls (387,270) .. (wl.east);
\draw[mainline] ([xshift=-7pt]root.north) .. controls +(0,-22) and (390,482) .. (390,468) -- (390,366) .. controls (390,350) .. (na.east);
\draw[mainline] ([xshift=14pt]root.north) .. controls +(0,-22) and (416,482) .. (416,468) -- (416,169) .. controls (416,149) .. (at.west);
\draw[mainline] ([xshift=11pt]root.north) .. controls +(0,-22) and (413,482) .. (413,468) -- (413,231) .. controls (413,211) .. (cia.west);
\draw[mainline] ([xshift=8pt]root.north) .. controls +(0,-22) and (410,482) .. (410,468) -- (410,269) .. controls (410,249) .. (tp.west);
\draw[mainline] ([xshift=5pt]root.north) .. controls +(0,-22) and (407,482) .. (407,468) -- (407,438) .. controls (407,418) .. (pr.west);
\draw[mainline] ([xshift=-7pt]root.south) .. controls +(0,22) and (390,542) .. (390,556) -- (390,585) .. controls (390,601) .. (ra.east);
\draw[mainline] ([xshift=-10pt]root.south) .. controls +(0,22) and (387,542) .. (387,556) -- (387,831) .. controls (387,847) .. (cd.east);
\draw[mainline] ([xshift=-13pt]root.south) .. controls +(0,22) and (384,542) .. (384,556) -- (384,930) .. controls (384,946) .. (nd.east);
\draw[mainline] ([xshift=5pt]root.south) .. controls +(0,22) and (407,542) .. (407,556) -- (407,582) .. controls (407,602) .. (lt.west);
\draw[mainline] ([xshift=8pt]root.south) .. controls +(0,22) and (410,542) .. (410,556) -- (410,657) .. controls (410,677) .. (cb.west);
\draw[mainline] ([xshift=11pt]root.south) .. controls +(0,22) and (413,542) .. (413,556) -- (413,784) .. controls (413,804) .. (cn.west);
\draw[mainline] ([xshift=14pt]root.south) .. controls +(0,22) and (416,542) .. (416,556) -- (416,878) .. controls (416,898) .. (lp.west);
\end{tikzpicture}
\end{document}
